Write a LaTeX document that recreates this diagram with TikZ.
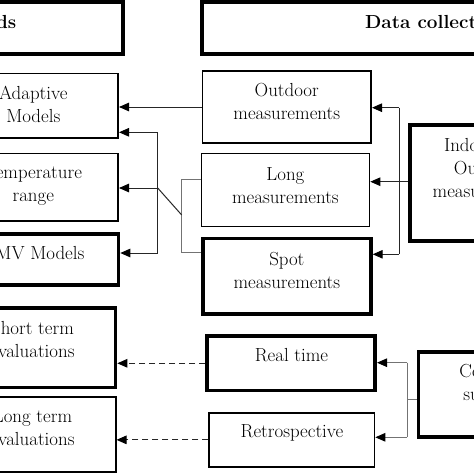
\documentclass[tikz,border=0pt]{standalone}
\usetikzlibrary{arrows.meta}
\begin{document}
\begin{tikzpicture}[x=1pt,y=-1pt,
  font=\fontsize{18.9}{23}\selectfont,
  box/.style={draw=black, inner sep=0pt},
  thinbox/.style={box, line width=1.6pt},
  thickbox/.style={box, line width=3.6pt},
  txt/.style={align=center, inner sep=0pt, anchor=base},
  ttl/.style={inner sep=0pt, font=\fontsize{18.9}{23}\selectfont\bfseries},
  conn/.style={draw=black!85, line width=1pt},
  gconn/.style={draw=black!55, line width=1pt},
  arr/.style={conn, -{Triangle[length=10pt,width=8.5pt,color=black]}},
  garr/.style={gconn, -{Triangle[length=10pt,width=8.5pt,color=black]}},
  darr/.style={conn, dash pattern=on 6pt off 4pt, -{Triangle[length=10pt,width=8.5pt,color=black]}},
]
\useasboundingbox (0,0) rectangle (474,474);
\clip (0,0) rectangle (474,474);
\fill[white] (0,0) rectangle (474,474);

% ---- boxes: left column
\node[thickbox, minimum width=321.1pt, minimum height=52.4pt] (titleL) at (-37.65,28) {};
\node[thinbox,  minimum width=169.4pt, minimum height=64.9pt] (adaptive) at (33.5,105.75) {};
\node[thinbox,  minimum width=169.4pt, minimum height=67.9pt] (temp) at (33.5,187.25) {};
\node[thickbox, minimum width=168.7pt, minimum height=51.4pt] (pmv) at (34.15,259.5) {};
\node[thickbox, minimum width=165.7pt, minimum height=79.7pt] (short) at (32.65,347.65) {};
\node[thinbox,  minimum width=166.9pt, minimum height=75.4pt] (longterm) at (32.25,434.5) {};

% ---- boxes: middle column
\node[thickbox, minimum width=496.4pt, minimum height=52.4pt] (titleR) at (450,28) {};
\node[thinbox,  minimum width=168.9pt, minimum height=72.4pt] (outdoor) at (286.75,107) {};
\node[thinbox,  minimum width=168.2pt, minimum height=73pt] (long) at (285.4,190) {};
\node[thickbox, minimum width=168.1pt, minimum height=75.7pt] (spot) at (286.85,276.35) {};
\node[thickbox, minimum width=168.4pt, minimum height=54.4pt] (realtime) at (291,363.3) {};
\node[thinbox,  minimum width=165.4pt, minimum height=54.1pt] (retro) at (291.8,439.85) {};

% ---- boxes: right column
\node[thickbox, minimum width=188.1pt, minimum height=115.8pt] (indoor) at (504.15,183) {};
\node[thickbox, minimum width=179.7pt, minimum height=85.4pt] (control) at (508.35,394.5) {};

% ---- texts (anchored at the baseline of the last line)
\node[ttl, anchor=base east] (titleL-t) at (16.5,28) {Methods};
\node[ttl, anchor=base west] (titleR-t) at (365,28) {Data collection};
\node[txt] (adaptive-t) at (33.3,122.7) {Adaptive\\Models};
\node[txt] (temp-t) at (33.3,201.5) {Temperature\\range};
\node[txt] (pmv-t) at (34,259) {PMV Models};
\node[txt] (short-t) at (32.5,357) {Short term\\evaluations};
\node[txt] (longterm-t) at (32.5,445) {Long term\\evaluations};
\node[txt] (outdoor-t) at (286.75,119.5) {Outdoor\\measurements};
\node[txt] (long-t) at (285.4,203.3) {Long\\measurements};
\node[txt] (spot-t) at (286.85,288.3) {Spot\\measurements};
\node[txt] (realtime-t) at (291.5,361.7) {Real time};
\node[txt] (retro-t) at (292,437.7) {Retrospective};
\node[txt] (indoor-t) at (486,197) {Indoor and\\Outdoor\\measurements};
\node[txt] (control-t) at (491,400) {Comfort\\surveys};

% ---- junction coordinates
\coordinate (jLtop) at (157.7,132.3);
\coordinate (jLmid) at (157.7,188);
\coordinate (jLbot) at (157.7,253);
\coordinate (bk1) at (181.7,179.3);
\coordinate (bkm) at (181.7,215);
\coordinate (bk2) at (181.7,252.3);
\coordinate (rb1) at (399,107.7);
\coordinate (rbm) at (399,181.7);
\coordinate (rb2) at (399,254.3);
\coordinate (cb1) at (407.3,362.7);
\coordinate (cbm) at (407.3,399.3);
\coordinate (cb2) at (407.3,437.3);

% ---- connectors
\draw[arr] (outdoor.west) -- (outdoor.west -| adaptive.east);

\draw[conn] (jLtop) -- (jLbot);
\draw[arr] (jLtop) -- (jLtop -| adaptive.east);
\draw[arr] (jLmid) -- (jLmid -| temp.east);
\draw[arr] (jLbot) -- (jLbot -| pmv.east);
\draw[gconn] (bk1 -| long.west) -- (bk1) -- (bk2) -- (bk2 -| spot.west);
\draw[conn] (bkm) -- (jLmid);

\draw[conn] (rb1) -- (rb2);
\draw[arr] (rb1) -- (rb1 -| outdoor.east);
\draw[arr] (rb2) -- (rb2 -| spot.east);
\draw[arr] (rbm -| indoor.west) -- (rbm -| long.east);

\draw[gconn] (cbm -| control.west) -- (cbm);
\draw[gconn] (cb1) -- (cb2);
\draw[garr] (cb1) -- (cb1 -| realtime.east);
\draw[garr] (cb2) -- (cb2 -| retro.east);

\draw[darr] (realtime.west) -- (realtime.west -| short.east);
\draw[darr] (retro.west) -- (retro.west -| longterm.east);
\end{tikzpicture}
\end{document}
